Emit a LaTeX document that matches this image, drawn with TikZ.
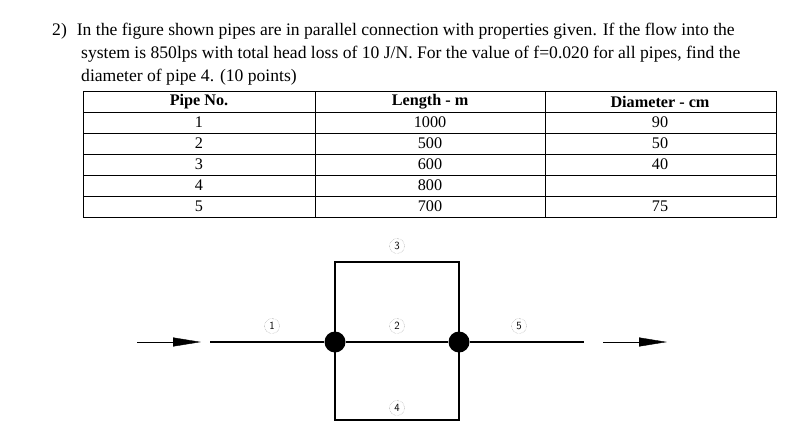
\documentclass[tikz,border=0pt]{standalone}
\usepackage{fontspec}
\setmainfont{Liberation Serif}
\usetikzlibrary{arrows.meta}
\begin{document}
\begin{tikzpicture}[x=1pt,y=-1pt,
  txt/.style={anchor=west,inner sep=0,font=\fontsize{17.6}{20}\selectfont},
  cell/.style={inner sep=0,font=\fontsize{16.2}{19}\selectfont},
  hcell/.style={cell,font=\fontsize{16.2}{19}\selectfont\bfseries},
  pipe/.style={line width=1.6pt},
  tag/.style={circle,draw=gray,densely dotted,thin,minimum size=15pt,inner sep=0,font=\sffamily\fontsize{11}{12}\selectfont},
  jn/.style={circle,fill=black,minimum size=21pt,inner sep=0},
  flow/.style={-{Triangle[length=28pt,width=9pt]},thin}]
\useasboundingbox (0,0) rectangle (799,444);
\node[txt] (l0) at (52,31) {2)\hspace{10pt}In the figure shown pipes are in parallel connection with properties given. If the flow into the};
\node[txt] (l1) at (81,54) {system is 850lps with total head loss of 10 J/N. For the value of f=0.020 for all pipes, find the};
\node[txt] (l2) at (81,77) {diameter of pipe 4. (10 points)};
% table
\draw[thin] (83,91) rectangle (776,217);
\foreach \y in {112,133,154,175,196} \draw[thin] (83,\y) -- (776,\y);
\draw[thin] (315,91) -- (315,217);
\draw[thin] (545,91) -- (545,217);
\node[hcell] (h1) at (199,102) {Pipe No.};
\node[hcell] (h2) at (430,102) {Length - m};
\node[hcell] (h3) at (660,102) {Diameter - cm};
\foreach \n/\L/\D [count=\i] in {1/1000/90,2/500/50,3/600/40,4/800/,5/700/75}{
  \node[cell] (a\i) at (199,101+21*\i) {\n};
  \node[cell] (b\i) at (430,101+21*\i) {\L};
  \node[cell] (c\i) at (660,101+21*\i) {\D};
}
% diagram
\coordinate (s) at (210,342);
\coordinate (e) at (584,342);
\node[jn] (j1) at (335,342) {};
\node[jn] (j2) at (459,342) {};
\coordinate (tl) at (335,262); \coordinate (tr) at (459,262);
\coordinate (bl) at (335,420); \coordinate (br) at (459,420);
\draw[pipe] (s) -- (j1) -- (j2) -- (e);
\draw[pipe] (j1.center) -- (tl) -- (tr) -- (j2.center) -- (br) -- (bl) -- (j1.center);
\coordinate (a0) at (137,342); \coordinate (a1) at (201,342);
\coordinate (b0) at (603,342); \coordinate (b1) at (667,342);
\draw[flow] (a0) -- (a1);
\draw[flow] (b0) -- (b1);
\node[tag] (t1) at (272,326) {1};
\node[tag] (t2) at (397,326) {2};
\node[tag] (t3) at (397,246) {3};
\node[tag] (t4) at (397,408) {4};
\node[tag] (t5) at (519,326) {5};
\end{tikzpicture}
\end{document}
